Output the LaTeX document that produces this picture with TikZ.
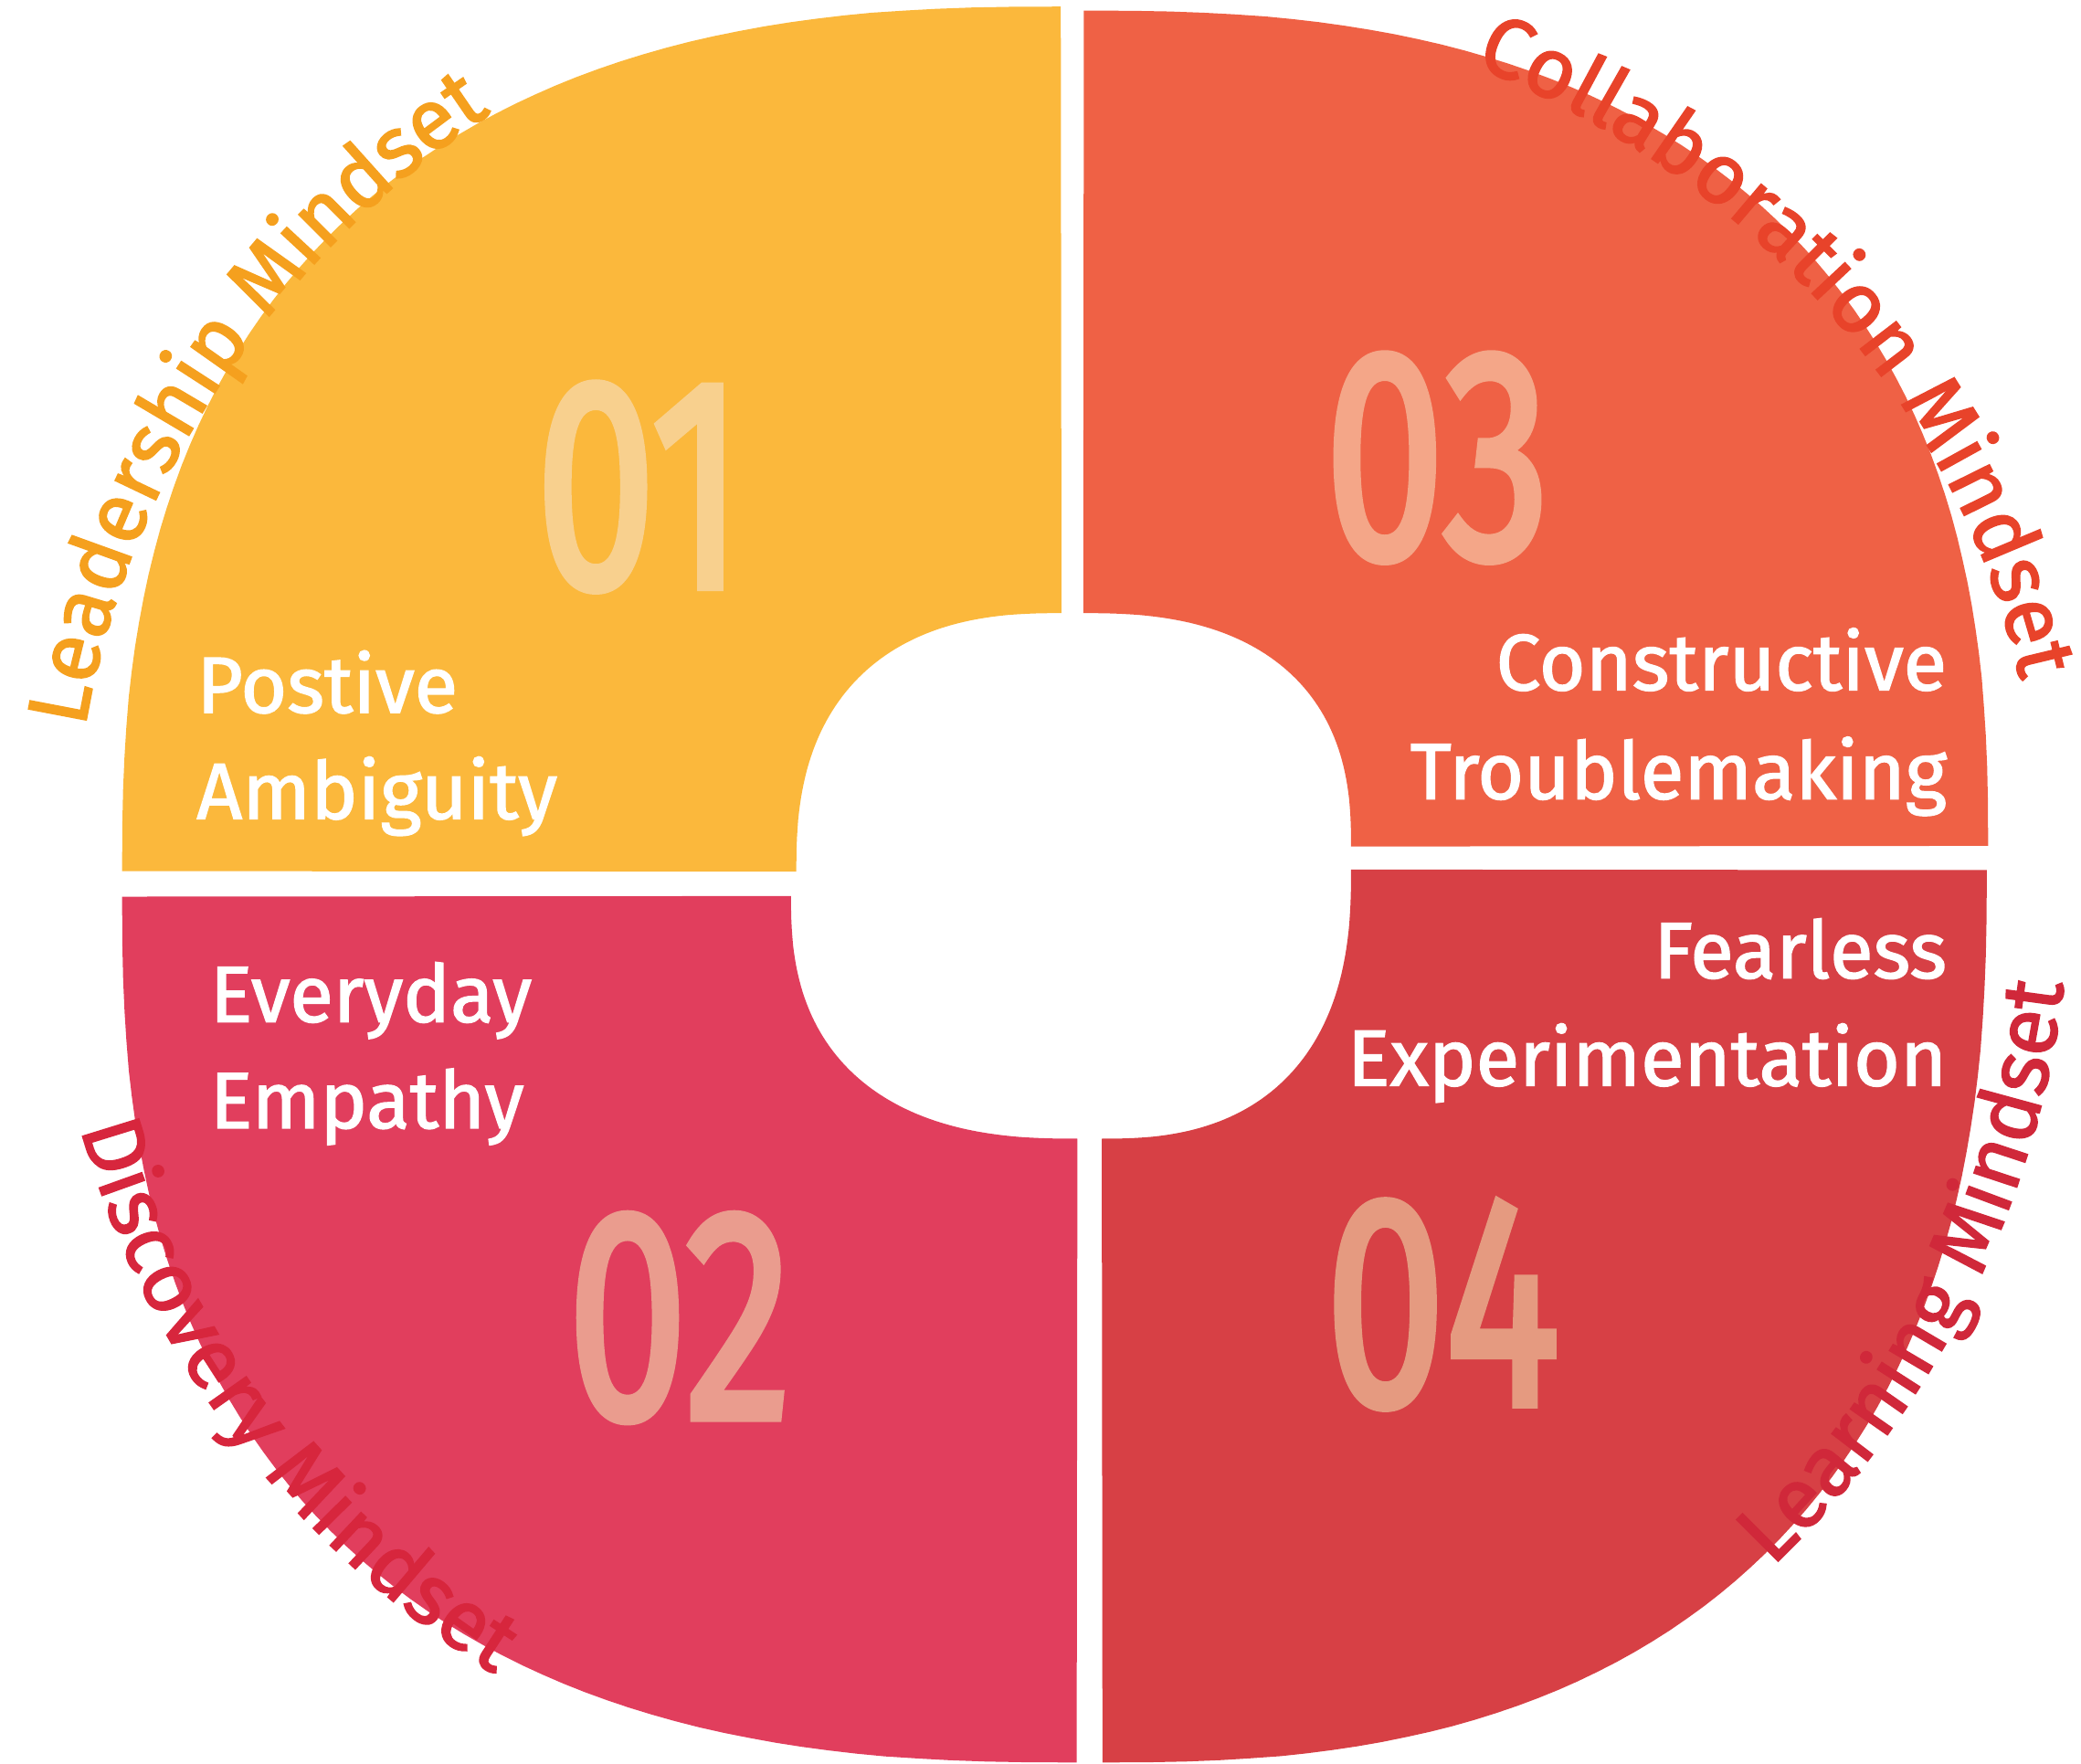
\documentclass[tikz,border=0pt]{standalone}
\usepackage{fontspec}
\setmainfont{Fira Sans}[FakeBold=1.6]
\newfontfamily\mfont{Fira Sans}[FakeBold=2]
\newfontfamily\nfont{Fira Sans}[FakeBold=3]
\usetikzlibrary{decorations.text}
\definecolor{cyel}{HTML}{FBB83C}
\definecolor{cora}{HTML}{EF6145}
\definecolor{cpink}{HTML}{E13E5D}
\definecolor{cred}{HTML}{D74045}
\definecolor{nyel}{HTML}{F8D08E}
\definecolor{nora}{HTML}{F4A688}
\definecolor{npink}{HTML}{EA9C8E}
\definecolor{nred}{HTML}{E59A80}
\definecolor{tyel}{HTML}{F5A01E}
\definecolor{tora}{HTML}{E8432A}
\definecolor{tpink}{HTML}{D7263D}
\definecolor{tred}{HTML}{D0283A}
\tikzset{
 lab/.style={text=white,font=\fontsize{60}{60}\selectfont,inner sep=0pt},
 num/.style={font=\nfont\fontsize{225}{225}\selectfont,xscale=0.72,inner sep=0pt,anchor=base},
 curv/.style={decorate,decoration={text along path,text align=center,text={#1}}},
 sq/.style={samples=60,variable=\t}
}
\begin{document}
\begin{tikzpicture}[x=1pt,y=1pt]
\useasboundingbox (0,0) rectangle (1568,1329);
% quadrants (superellipse sectors)
\fill[cyel,shift={(800,672)}] plot[sq,domain=179.99:90.01] ({-708*pow(abs(cos(\t)),0.8)},{652*pow(abs(sin(\t)),0.8)})
  -- plot[sq,domain=90.01:179.99] ({-200*pow(abs(cos(\t)),0.8)},{195*pow(abs(sin(\t)),0.8)}) -- cycle;
\fill[cora,shift={(816,691)}] plot[sq,domain=89.99:0.01] ({682*pow(abs(cos(\t)),0.8)},{630*pow(abs(sin(\t)),0.8)})
  -- plot[sq,domain=0.01:89.99] ({202*pow(abs(cos(\t)),0.8)},{176*pow(abs(sin(\t)),0.8)}) -- cycle;
\fill[cpink,shift={(812,654)}] plot[sq,domain=180.01:269.99] ({-720*pow(abs(cos(\t)),0.8)},{-653*pow(abs(sin(\t)),0.8)})
  -- plot[sq,domain=269.99:180.01] ({-216*pow(abs(cos(\t)),0.8)},{-183*pow(abs(sin(\t)),0.8)}) -- cycle;
\fill[cred,shift={(830,674)}] plot[sq,domain=0.01:89.99] ({667*pow(abs(cos(\t)),0.8)},{-673*pow(abs(sin(\t)),0.8)})
  -- plot[sq,domain=89.99:0.01] ({188*pow(abs(cos(\t)),0.8)},{-203*pow(abs(sin(\t)),0.8)}) -- cycle;
% numbers
\node[num,text=nyel] (n1) at (482,887) {01};
\node[num,text=nora] (n3) at (1083,909) {03};
\node[num,text=npink] (n2) at (512,261) {02};
\node[num,text=nred] (n4) at (1087,271) {04};
% labels
\node[lab,anchor=base west] (l1a) at (148,792) {Postive};
\node[lab,anchor=base west] (l1b) at (148,712) {Ambiguity};
\node[lab,anchor=base east] (l3a) at (1467,809) {Constructive};
\node[lab,anchor=base east] (l3b) at (1467,727) {Troublemaking};
\node[lab,anchor=base west] (l2a) at (158,559) {Everyday};
\node[lab,anchor=base west] (l2b) at (158,479) {Empathy};
\node[lab,anchor=base east] (l4a) at (1467,592) {Fearless};
\node[lab,anchor=base east] (l4b) at (1467,511) {Experimentation};
% curved texts
\path[curv={|\mfont\fontsize{64}{64}\selectfont\color{tyel}|Leadership Mindset},shift={(800,672)}]
  (185:745 and 700) arc[start angle=185,end angle=112,x radius=745,y radius=700];
\path[curv={|\mfont\fontsize{64}{64}\selectfont\color{tora}|Collaboration Mindset},shift={(816,691)}]
  (76:720 and 645) arc[start angle=76,end angle=0,x radius=720,y radius=645];
\path[curv={|\mfont\fontsize{64}{64}\selectfont\color{tpink}|Discovery Mindset},shift={(812,654)}]
  (183:775 and 712) arc[start angle=183,end angle=246,x radius=775,y radius=712];
\path[curv={|\mfont\fontsize{64}{64}\selectfont\color{tred}|Learning Mindset},shift={(830,674)}]
  (-56:730 and 728) arc[start angle=-56,end angle=3,x radius=730,y radius=728];
\end{tikzpicture}
\end{document}
